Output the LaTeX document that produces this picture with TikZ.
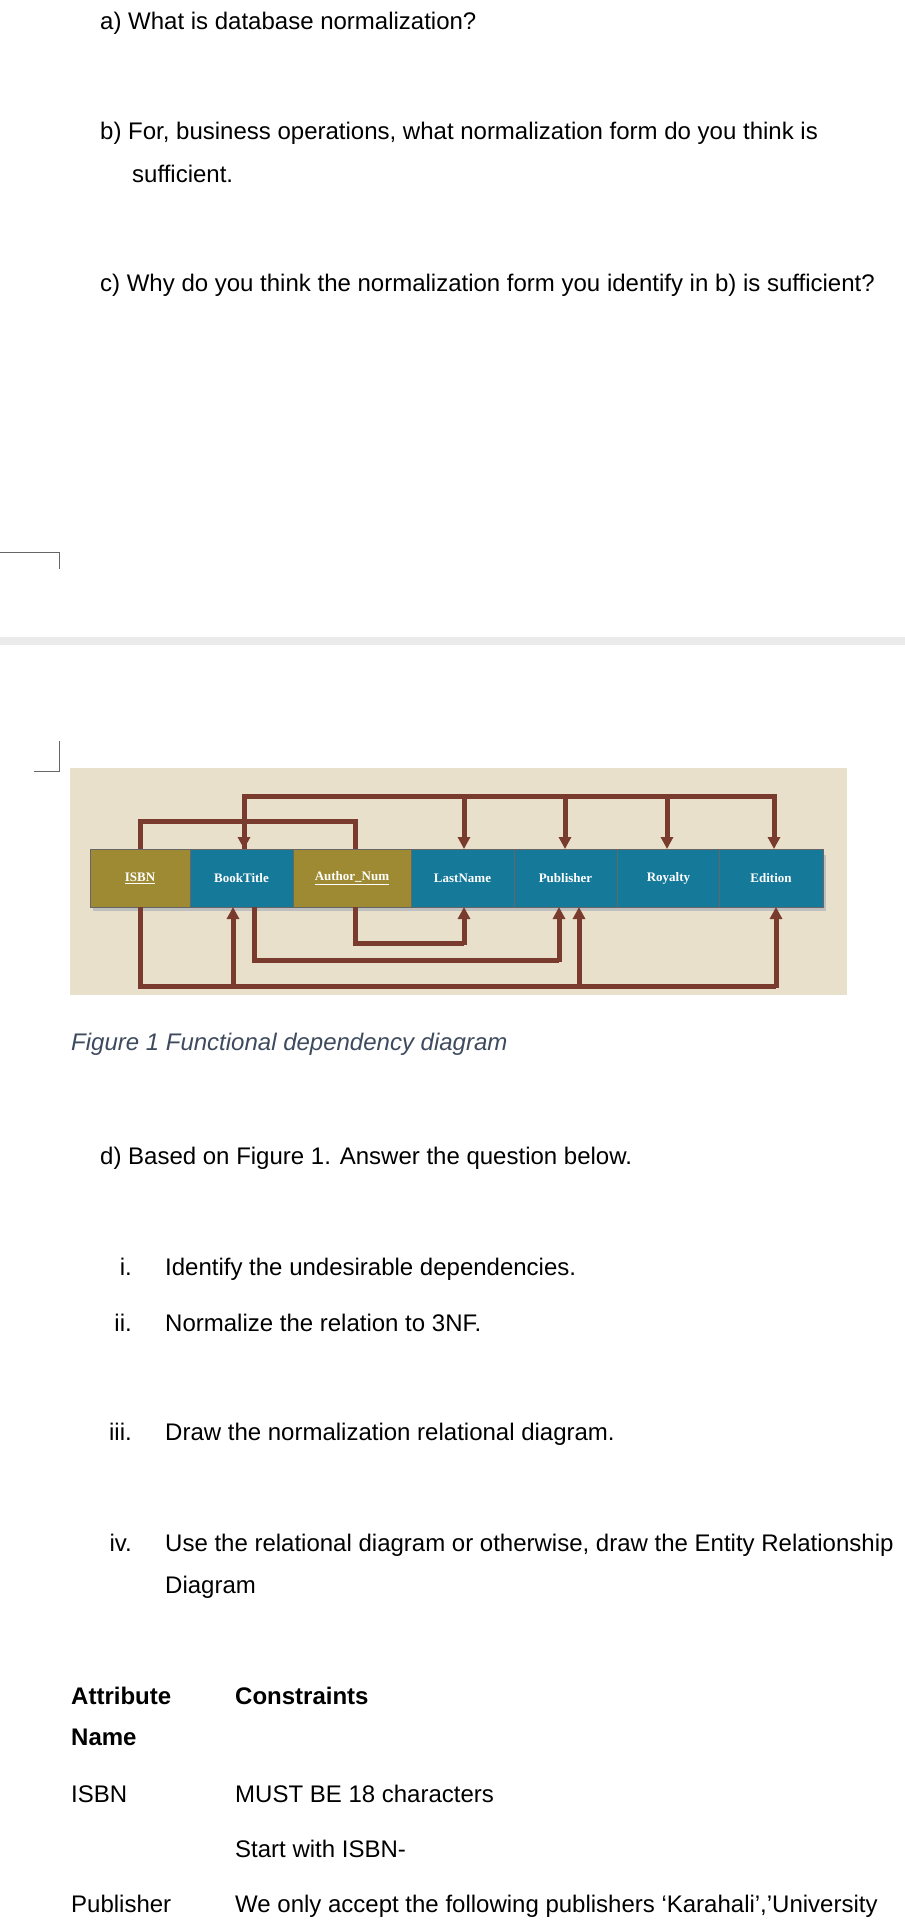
\documentclass[tikz,border=0pt]{standalone}
\usepackage{fontspec}
\setmainfont{Liberation Sans}
\newfontfamily\boxfont{Liberation Serif}
\usetikzlibrary{arrows.meta}
\definecolor{gold}{HTML}{9E8A32}
\definecolor{tblue}{HTML}{15799A}
\definecolor{brn}{HTML}{7A3B2F}
\definecolor{beige}{HTML}{E8E0CA}
\definecolor{capc}{HTML}{3E4A5E}
\tikzset{
 txt/.style={anchor=base west,inner sep=0,font=\fontsize{24}{28}\selectfont},
 btxt/.style={txt,font=\fontsize{24}{28}\selectfont\bfseries},
 fld/.style={draw=black!60,line width=0.6pt,minimum height=58pt,inner sep=0,text=white,font=\boxfont\bfseries\fontsize{13}{15}\selectfont},
 dep/.style={draw=brn,line width=5pt,-{Triangle[length=12pt,width=12pt]}},
 ln/.style={draw=brn,line width=5pt},
}
\begin{document}
\begin{tikzpicture}[x=1pt,y=-1pt]
\useasboundingbox (0,0) rectangle (905,1920);
\fill[white] (0,0) rectangle (905,1920);
\node[txt] (ta) at (100,29) {a)\ What is database normalization?};
\node[txt] (tb) at (100,139) {b)\ For, business operations, what normalization form do you think is};
\node[txt] (tb2) at (132,182) {sufficient.};
\node[txt] (tc) at (100,291) {c)\ Why do you think the normalization form you identify in b) is sufficient?};
\draw[black!60,line width=1pt] (0,552) -- (59,552) -- (59,569);
\fill[black!8] (0,637) rectangle (905,645);
\draw[black!60,line width=1pt] (59,741) -- (59,771) -- (34,771);
\fill[beige] (70,768) rectangle (847,995);
\fill[black!25] (93,855) rectangle (826,911);
\node[fld,fill=gold,minimum width=100pt] (isbn) at (140,878) {\underline{ISBN}};
\node[fld,fill=tblue,minimum width=103pt] (bt) at (241.5,878) {BookTitle};
\node[fld,fill=gold,minimum width=118pt] (an) at (352,878) {\underline{Author\_Num}};
\node[fld,fill=tblue,minimum width=103pt] (lnm) at (462.5,878) {LastName};
\node[fld,fill=tblue,minimum width=103pt] (pub) at (565.5,878) {Publisher};
\node[fld,fill=tblue,minimum width=103pt] (roy) at (668.5,878) {Royalty};
\node[fld,fill=tblue,minimum width=104pt] (ed) at (771,878) {Edition};
% top
\coordinate (t1) at (244,796);
\coordinate (t2) at (774,796);
\draw[ln] (244,849) -- (t1) -- (t2);
\foreach \x in {244,464,565,667,774}{
 \draw[dep] (\x,794) -- (\x,849);
}
\draw[ln] (140,849) -- (140,821) -- (355,821) -- (355,849);
% bottom
\draw[ln] (140,907) -- (140,986) -- (776,986);
\draw[dep] (776,988) -- (776,907);
\draw[dep] (233,988) -- (233,907);
\draw[dep] (579,988) -- (579,907);
\draw[ln] (254,907) -- (254,960) -- (559,960);
\draw[dep] (559,962) -- (559,907);
\draw[ln] (355,907) -- (355,943) -- (464,943);
\draw[dep] (464,945) -- (464,907);
\node[txt,font=\fontsize{24}{28}\selectfont\itshape,text=capc] (cap) at (71,1050) {Figure 1 Functional dependency diagram};
\node[txt] (td) at (100,1164) {d)\ Based on Figure 1. Answer the question below.};
\node[txt,anchor=base east] (i1) at (132,1275) {i.};
\node[txt] (i1t) at (165,1275) {Identify the undesirable dependencies.};
\node[txt,anchor=base east] (i2) at (132,1331) {ii.};
\node[txt] (i2t) at (165,1331) {Normalize the relation to 3NF.};
\node[txt,anchor=base east] (i3) at (132,1440) {iii.};
\node[txt] (i3t) at (165,1440) {Draw the normalization relational diagram.};
\node[txt,anchor=base east] (i4) at (132,1551) {iv.};
\node[txt] (i4t) at (165,1551) {Use the relational diagram or otherwise, draw the Entity Relationship};
\node[txt] (i4t2) at (165,1593) {Diagram};
\node[btxt] (h1) at (71,1704) {Attribute};
\node[btxt] (h1b) at (71,1745) {Name};
\node[btxt] (h2) at (235,1704) {Constraints};
\node[txt] (r1) at (71,1802) {ISBN};
\node[txt] (r1c) at (235,1802) {MUST BE 18 characters};
\node[txt] (r1d) at (235,1857) {Start with ISBN-};
\node[txt] (r2) at (71,1912) {Publisher};
\node[txt] (r2c) at (235,1912) {We only accept the following publishers ‘Karahali’,’University};
\end{tikzpicture}
\end{document}
